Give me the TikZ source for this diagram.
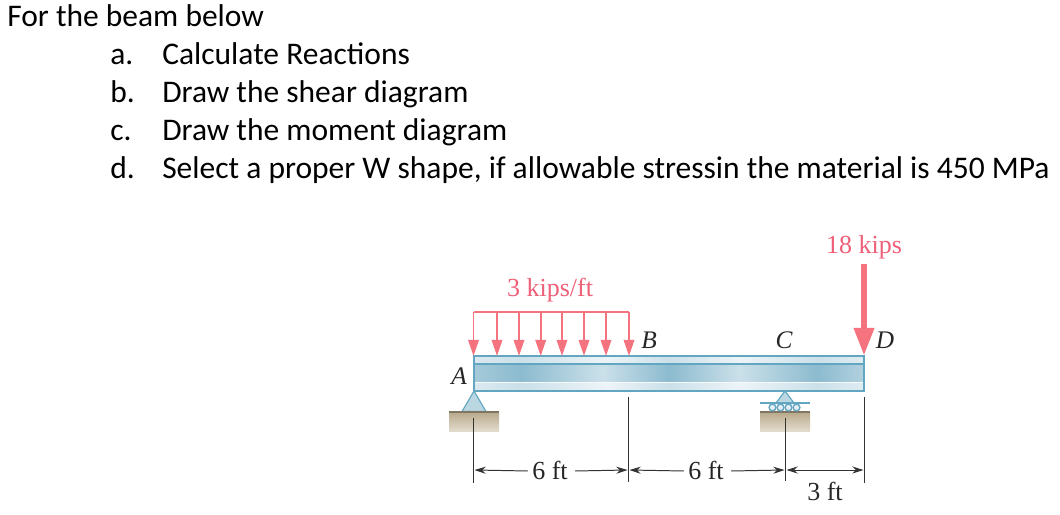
\documentclass[tikz,border=0pt]{standalone}
\usepackage{xcolor}
\usepackage{fontspec}
\usepackage{amsmath}
\usetikzlibrary{arrows.meta}
\newfontfamily\bodyfont{Carlito}
\newfontfamily\figfont{Liberation Serif}
\definecolor{loadred}{HTML}{F4737F}
\definecolor{labelred}{HTML}{EE5F78}
\definecolor{beamedge}{HTML}{62A6C2}
\definecolor{webdark}{HTML}{8CBBCF}
\definecolor{weblight}{HTML}{CBE0E9}
\definecolor{groundtop}{HTML}{B8A98B}
\definecolor{groundlow}{HTML}{E2DBCD}
\definecolor{dimgray}{HTML}{333333}
\pgfdeclarehorizontalshading{webshade}{100bp}{color(0bp)=(webdark!60!weblight);color(25bp)=(webdark!60!weblight);color(31bp)=(webdark);color(41.5bp)=(weblight);color(50bp)=(webdark);color(59bp)=(weblight);color(69bp)=(webdark);color(75bp)=(webdark!40!weblight);color(100bp)=(weblight)}
\pgfdeclarehorizontalshading{flangeshade}{100bp}{color(0bp)=(weblight!70!white);color(25bp)=(weblight!70!white);color(31bp)=(weblight);color(42bp)=(weblight!35!white);color(50bp)=(weblight);color(59bp)=(weblight!35!white);color(69bp)=(weblight);color(75bp)=(weblight!60!white);color(100bp)=(weblight)}
\tikzset{
    bodytext/.style={anchor=base west,inner sep=0pt,font=\bodyfont\fontsize{22.4}{24}\selectfont,text=black},
    dimtext/.style={inner sep=0pt,font=\figfont\fontsize{18.5}{20}\selectfont,text=black!85},
    redtext/.style={inner sep=0pt,font=\figfont\fontsize{18.5}{20}\selectfont,text=labelred},
    pointtext/.style={inner sep=0pt,font=\figfont\itshape\fontsize{18}{20}\selectfont,text=black!85},
    loadarrow/.style={draw=loadred,line width=1.4pt,-{Triangle[length=11.5pt,width=7.5pt]}},
    bigarrow/.style={draw=loadred,line width=4.6pt,-{Triangle[length=20pt,width=13.5pt]}},
    extline/.style={draw=dimgray,line width=0.75pt},
    dimarrow/.style={draw=dimgray,line width=0.7pt,-{Stealth[length=8pt,width=5pt]}},
    dimboth/.style={draw=dimgray,line width=0.7pt,{Stealth[length=8pt,width=5pt]}-{Stealth[length=8pt,width=5pt]}},
    ground/.style={top color=groundtop,bottom color=groundlow,draw=none},
    pinbox/.style={fill=weblight!75!webdark,draw=beamedge,line width=0.8pt,line join=round},
}
\begin{document}
\begin{tikzpicture}[x=0.025cm,y=-0.025cm]
    \useasboundingbox (0,0) rectangle (1060,514);
    % Enonce
    \path(7,26) node[bodytext](title){For the beam below};
    \path(110,64) node[bodytext](itema){a.};
    \path(162,64) node[bodytext](texta){Calculate Reactions};
    \path(110,102) node[bodytext](itemb){b.};
    \path(162,102) node[bodytext](textb){Draw the shear diagram};
    \path(110,140) node[bodytext](itemc){c.};
    \path(162,140) node[bodytext](textc){Draw the moment diagram};
    \path(110,178) node[bodytext](itemd){d.};
    \path(162,178) node[bodytext](textd){Select a proper W shape, if allowable stressin the material is 450 MPa};
    % Poutre
    \shade[shading=flangeshade](474,356) rectangle (864,364); % Haut
    \shade[shading=webshade](474,364) rectangle (864,382); % Ame
    \shade[shading=flangeshade](474,382) rectangle (864,391); % Bas
    \draw[beamedge,line width=0.8pt](474,364)--(864,364);
    \draw[white!80!weblight,line width=0.7pt](474,382)--(864,382);
    \draw[beamedge,line width=0.9pt](474,356) rectangle (864,391);
    % Appui A
    \fill[ground](449,412) rectangle (499,431);
    \draw[pinbox](474,391)--(462,411.5)--(486,411.5)--cycle;
    \draw[draw=groundtop!70!black,line width=0.8pt](449,412)--(499,412);
    % Appui C
    \fill[ground](760,412) rectangle (810,431);
    \draw[draw=groundtop!70!black,line width=0.8pt](760,412)--(810,412);
    \draw[pinbox](785,391)--(776,403)--(794,403)--cycle;
    \draw[beamedge,line width=0.9pt](760,403)--(810,403);
    \foreach \xr in {772.5,780.5,788.5,796.5}
        \draw[beamedge,fill=weblight!50!white,line width=1pt](\xr,407.5) circle (3.4); % Rouleaux
    % Charge repartie
    \coordinate(loadleft) at (473.5,312);
    \coordinate(loadright) at (629,312);
    \draw[loadred,line width=1.4pt](loadleft)--(loadright);
    \foreach \xl in {473.5,497,519,540.7,562,584,606,629}
        \draw[loadarrow](\xl,312)--(\xl,356);
    \path(550,290.5) node[redtext](loadlabel){3 kips/ft};
    % Charge en D
    \coordinate(forcetop) at (864,264);
    \coordinate(forcetip) at (864,356);
    \draw[bigarrow](forcetop)--(forcetip);
    \path(864,247) node[redtext](forcelabel){18 kips};
    % Points
    \path(459,376) node[pointtext](A){A};
    \path(649,340.5) node[pointtext](B){B};
    \path(784,340.5) node[pointtext](C){C};
    \path(885,340.5) node[pointtext](D){D};
    % Cotes
    \coordinate(extAtop) at (473.5,418);
    \coordinate(extAlow) at (473.5,483);
    \coordinate(extBtop) at (628.5,397);
    \coordinate(extBlow) at (628.5,482);
    \coordinate(extCtop) at (785.5,418);
    \coordinate(extClow) at (785.5,481);
    \coordinate(extDtop) at (864.5,397);
    \coordinate(extDlow) at (864.5,483);
    \draw[extline](extAtop)--(extAlow);
    \draw[extline](extBtop)--(extBlow);
    \draw[extline](extCtop)--(extClow);
    \draw[extline](extDtop)--(extDlow);
    \path(550,470.5) node[dimtext](dimAB){6 ft};
    \path(706,470.5) node[dimtext](dimBC){6 ft};
    \path(825,491.5) node[dimtext](dimCD){3 ft};
    \coordinate(ptA) at (474.5,470);
    \coordinate(ptBl) at (627.5,470);
    \coordinate(ptBr) at (629.5,470);
    \coordinate(ptCl) at (784.5,470);
    \coordinate(ptCr) at (786.5,470);
    \coordinate(ptD) at (863.5,470);
    \draw[dimarrow]([xshift=-3pt,yshift=-0.35pt]dimAB.west)--(ptA);
    \draw[dimarrow]([xshift=5pt,yshift=-0.35pt]dimAB.east)--(ptBl);
    \draw[dimarrow]([xshift=-3pt,yshift=-0.35pt]dimBC.west)--(ptBr);
    \draw[dimarrow]([xshift=5pt,yshift=-0.35pt]dimBC.east)--(ptCl);
    \draw[dimboth](ptCr)--(ptD);
\end{tikzpicture}
\end{document}
